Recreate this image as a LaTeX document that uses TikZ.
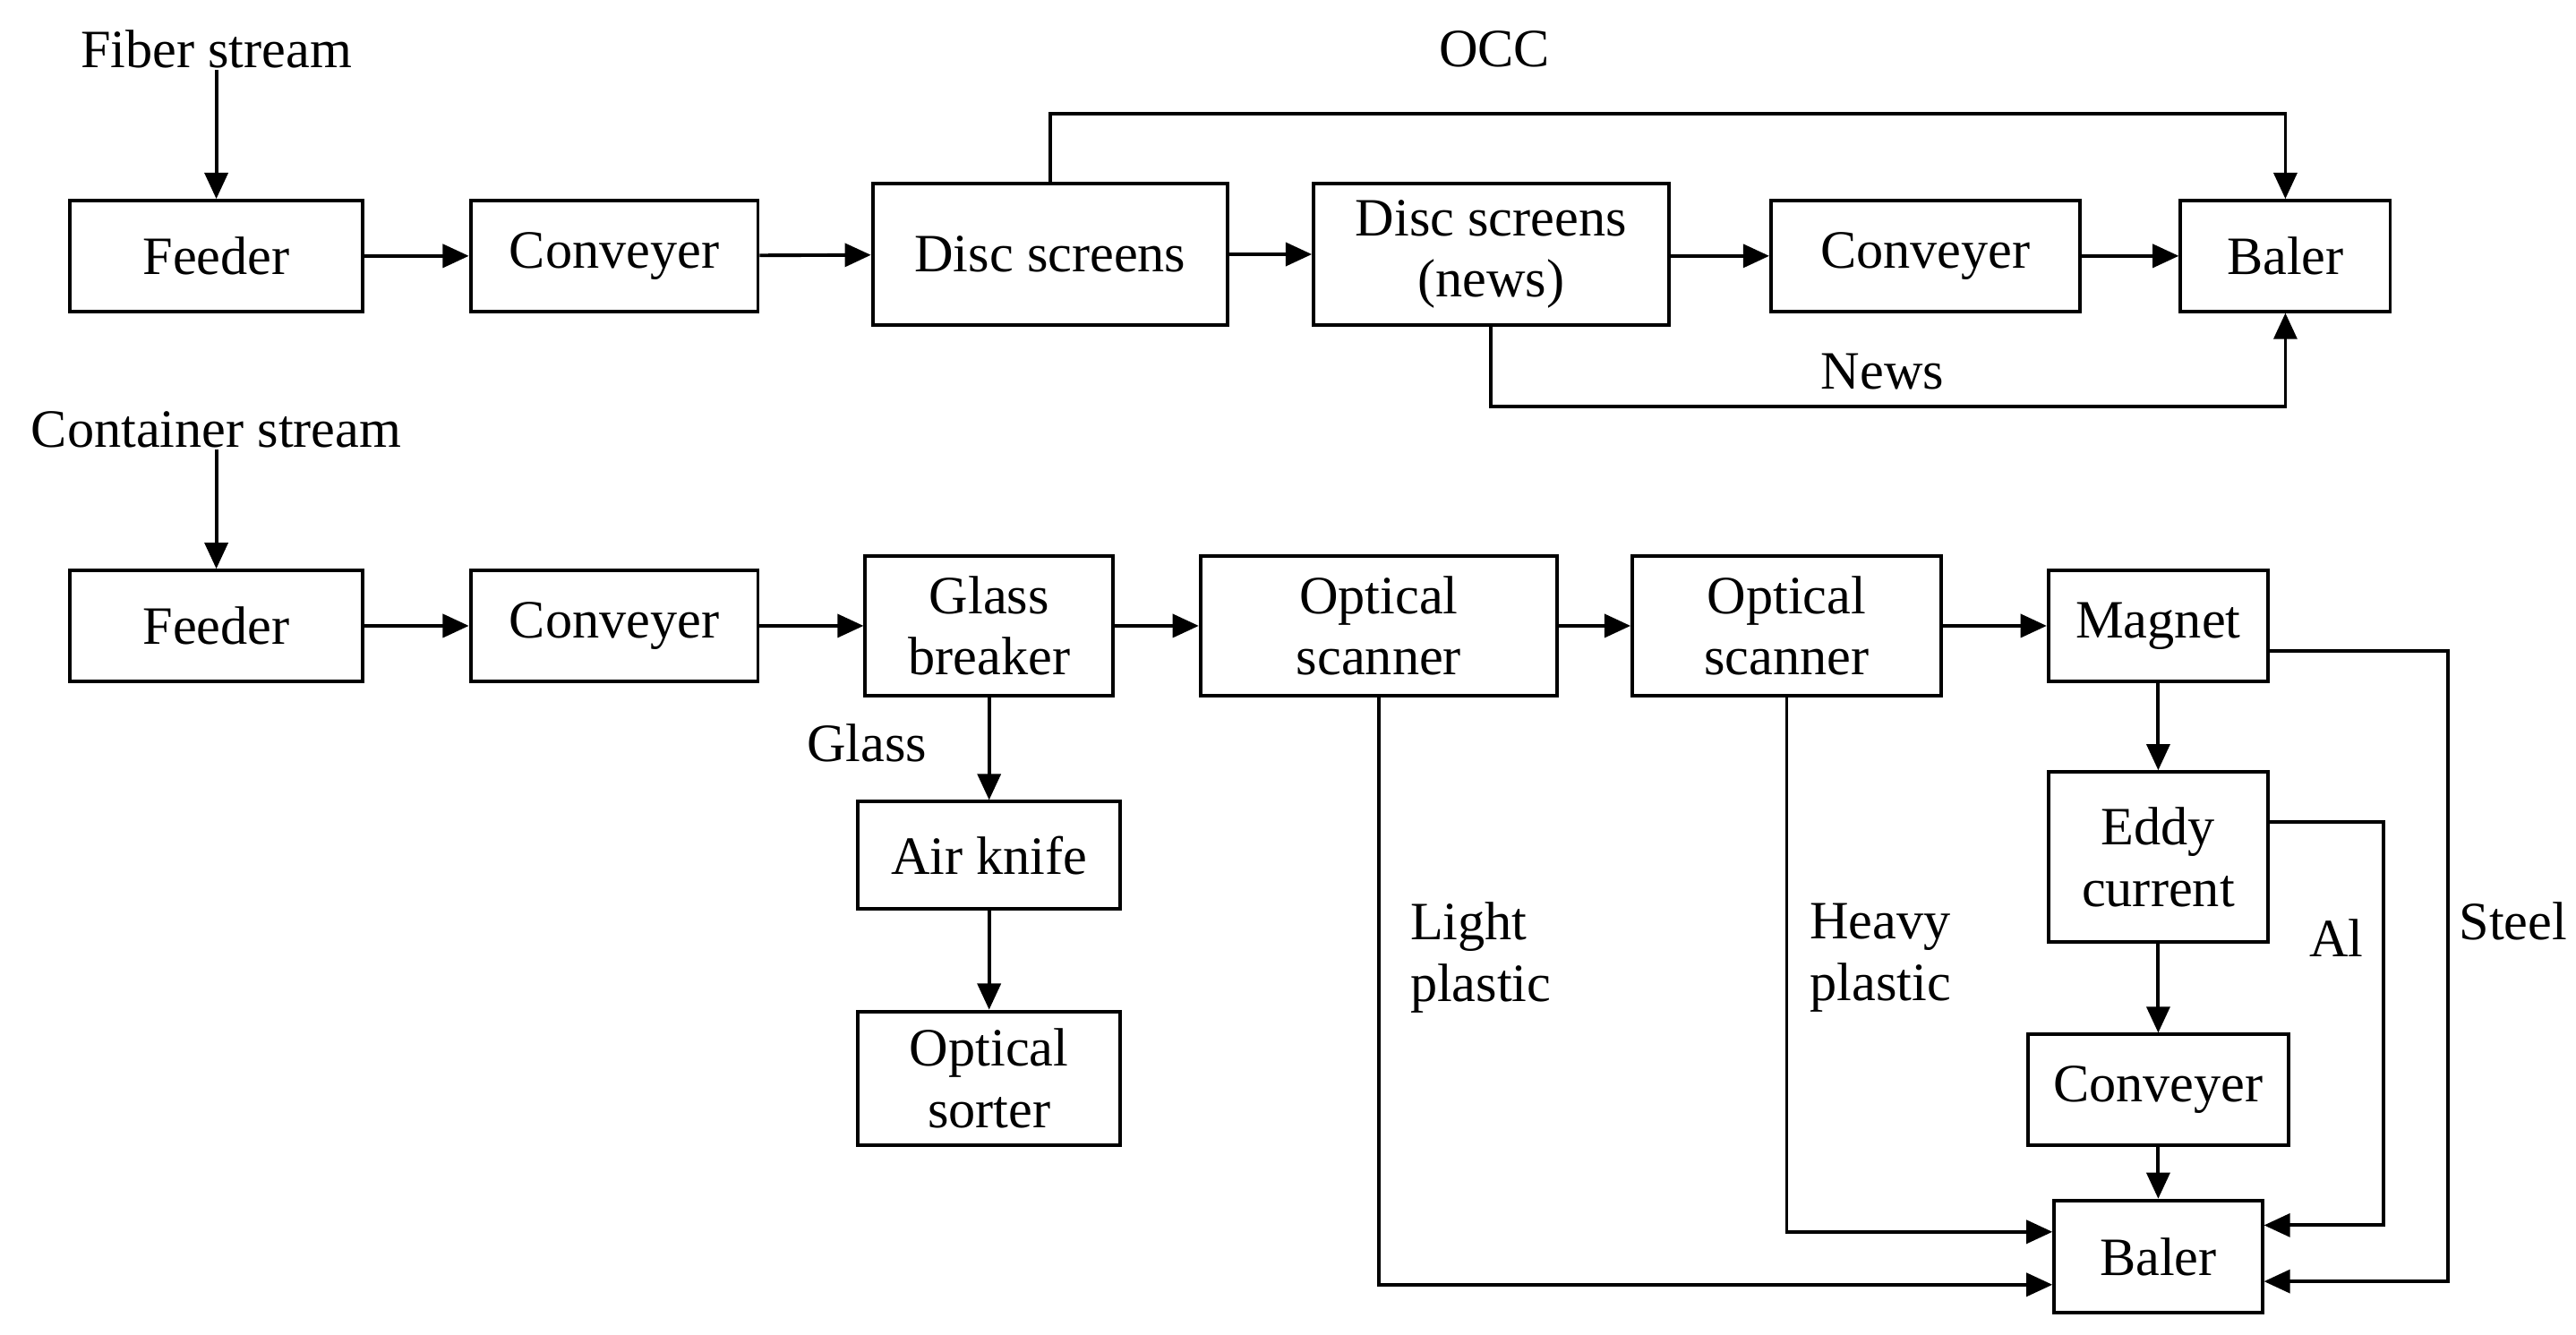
\documentclass[tikz,border=0pt]{standalone}
\usepackage{fontspec}
\setmainfont{Liberation Serif}
\usetikzlibrary{arrows.meta,calc}
\begin{document}
\begin{tikzpicture}[x=0.1mm,y=-0.1mm,>={Triangle[length=4.5pt,width=4pt]},line width=0.6pt,
  font=\fontsize{9.3}{10.6}\selectfont,
  box/.style 2 args={draw,inner sep=0pt,align=center,minimum width=#1*0.1mm,minimum height=#2*0.1mm},
  lbl/.style={inner sep=0pt,align=left}]
\useasboundingbox (0,0) rectangle (1560,808);
% fiber stream
\node[lbl] (fs) at (131,30) {Fiber stream};
\node[box={177}{67}] (f1) at (131,155) {Feeder};
\node[box={174}{67}] (c1) at (372,155) {Conveyer};
\node[box={215}{86}] (d1) at (636,154) {Disc screens};
\node[box={215}{86}] (d2) at (903,154) {Disc screens\\(news)};
\node[box={187}{67}] (c2) at (1166,155) {Conveyer};
\node[box={127}{67}] (b1) at (1384,155) {Baler};
\node[lbl] (occ) at (905,30) {OCC};
\node[lbl] (news) at (1140,225) {News};
\draw[->] (fs.south) -- (f1.north);
\draw[->] (f1) -- (c1);
\draw[->] (c1) -- (d1);
\draw[->] (d1) -- (d2);
\draw[->] (d2.east|-c2.west) -- (c2);
\draw[->] (c2) -- (b1);
\draw[->] (d1.north) -- ++(0,-41) -| (b1.north);
\draw[->] (d2.south) -- ++(0,48) -| (b1.south);
% container stream
\node[lbl] (cs) at (131,260) {Container stream};
\node[box={177}{67}] (f2) at (131,379) {Feeder};
\node[box={174}{67}] (c3) at (372,379) {Conveyer};
\node[box={150}{85}] (gb) at (599,379) {Glass\\breaker};
\node[box={216}{85}] (o1) at (835,379) {Optical\\scanner};
\node[box={187}{85}] (o2) at (1082,379) {Optical\\scanner};
\node[box={133}{67}] (mg) at (1307,379) {Magnet};
\node[box={159}{65}] (ak) at (599,518) {Air knife};
\node[box={159}{81}] (os) at (599,653) {Optical\\sorter};
\node[box={133}{103}] (ec) at (1307,519) {Eddy\\current};
\node[box={158}{67}] (c4) at (1307,660) {Conveyer};
\node[box={126}{68}] (b2) at (1307,761) {Baler};
\node[lbl] (gl) at (525,450) {Glass};
\node[lbl,anchor=west] (lp) at (853,580) {Light\\plastic};
\node[lbl,anchor=west] (hp) at (1095,580) {Heavy\\plastic};
\node[lbl] (al) at (1415,568) {Al};
\node[lbl] (st) at (1522,558) {Steel};
\draw[->] (cs.south) -- (f2.north);
\draw[->] (f2) -- (c3);
\draw[->] (c3) -- (gb);
\draw[->] (gb) -- (o1);
\draw[->] (o1) -- (o2);
\draw[->] (o2) -- (mg);
\draw[->] (gb) -- (ak);
\draw[->] (ak) -- (os);
\draw[->] (mg) -- (ec);
\draw[->] (ec) -- (c4);
\draw[->] (c4) -- (b2);
\draw[->] (o1.south) |- ($(b2.west)+(0,17)$);
\draw[->] (o2.south) |- ($(b2.west)+(0,-15)$);
\draw[->] ($(ec.east)+(0,-21)$) -- ++(69,0) |- ($(b2.east)+(0,-19)$);
\draw[->] ($(mg.east)+(0,15)$) -- ++(108,0) |- ($(b2.east)+(0,15)$);
\end{tikzpicture}
\end{document}
